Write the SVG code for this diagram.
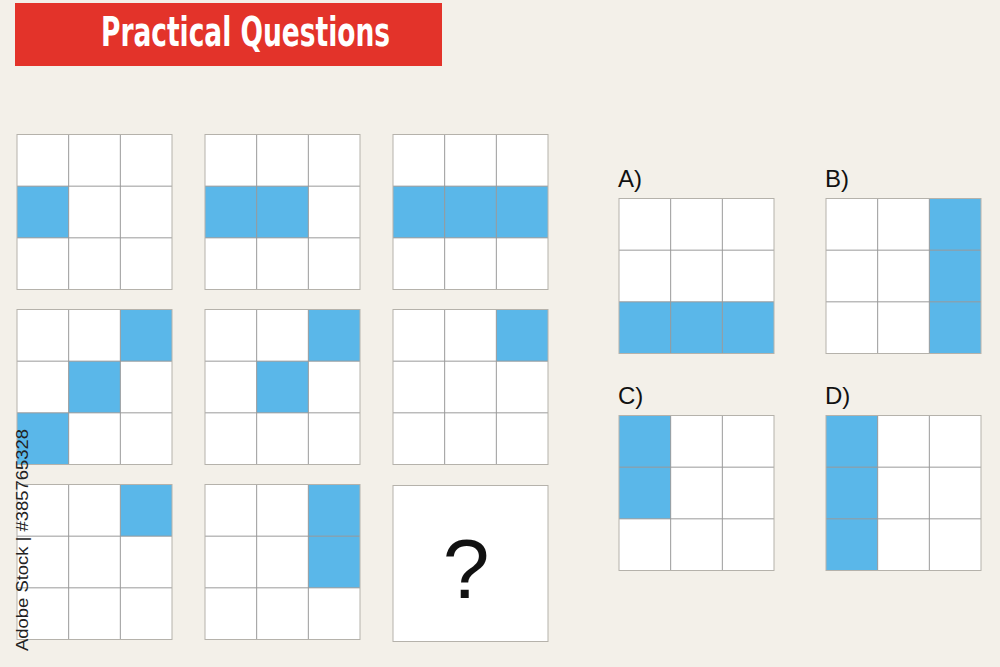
<svg xmlns="http://www.w3.org/2000/svg" xmlns:xlink="http://www.w3.org/1999/xlink" width="1000" height="667" viewBox="0 0 1000 667">
<style>
.bg{fill:#f3f0e9}
.box{fill:#ffffff}
.on{fill:#5ab7e9}
.ln{fill:none;stroke:#9a9a9a;stroke-width:1}
.edge{fill:none;stroke:#b5b2ab;stroke-width:1}
.lbl{font-family:"Liberation Sans",Arial,sans-serif;font-size:24px;fill:#111}
.ttl{font-family:"DejaVu Sans Condensed","DejaVu Sans",sans-serif;font-weight:bold;font-stretch:condensed;font-size:41px;fill:#ffffff}
</style>
<defs>
<g id="lines">
<path class="ln" d="M51.67 0V155M103.33 0V155M0 51.67H155M0 103.33H155"/>
<rect class="edge" x="0" y="0" width="155" height="155"/>
</g>
</defs>
<rect class="bg" x="0" y="0" width="1000" height="667"/>
<g id="title">
<rect x="15" y="3" width="427" height="63" fill="#e3332a"/>
<text class="ttl" x="101" y="46" textLength="289" lengthAdjust="spacingAndGlyphs">Practical Questions</text>
</g>
<g id="q1" transform="translate(17,134.5)">
<rect class="box" width="155" height="155"/>
<rect class="on" x="0" y="51.67" width="51.67" height="51.67"/>
<use href="#lines"/>
</g>
<g id="q2" transform="translate(205,134.5)">
<rect class="box" width="155" height="155"/>
<rect class="on" x="0" y="51.67" width="103.33" height="51.67"/>
<use href="#lines"/>
</g>
<g id="q3" transform="translate(393,134.5)">
<rect class="box" width="155" height="155"/>
<rect class="on" x="0" y="51.67" width="155" height="51.67"/>
<use href="#lines"/>
</g>
<g id="q4" transform="translate(17,309.5)">
<rect class="box" width="155" height="155"/>
<rect class="on" x="103.33" y="0" width="51.67" height="51.67"/>
<rect class="on" x="51.67" y="51.67" width="51.67" height="51.67"/>
<rect class="on" x="0" y="103.33" width="51.67" height="51.67"/>
<use href="#lines"/>
</g>
<g id="q5" transform="translate(205,309.5)">
<rect class="box" width="155" height="155"/>
<rect class="on" x="103.33" y="0" width="51.67" height="51.67"/>
<rect class="on" x="51.67" y="51.67" width="51.67" height="51.67"/>
<use href="#lines"/>
</g>
<g id="q6" transform="translate(393,309.5)">
<rect class="box" width="155" height="155"/>
<rect class="on" x="103.33" y="0" width="51.67" height="51.67"/>
<use href="#lines"/>
</g>
<g id="q7" transform="translate(17,484.5)">
<rect class="box" width="155" height="155"/>
<rect class="on" x="103.33" y="0" width="51.67" height="51.67"/>
<use href="#lines"/>
</g>
<g id="q8" transform="translate(205,484.5)">
<rect class="box" width="155" height="155"/>
<rect class="on" x="103.33" y="0" width="51.67" height="103.33"/>
<use href="#lines"/>
</g>
<g id="q9" transform="translate(393,485.5)">
<rect class="box" width="155" height="156"/>
<rect class="edge" width="155" height="156"/>
<text x="73" y="112" text-anchor="middle" font-family="Liberation Sans,Arial,sans-serif" font-size="84" fill="#111">?</text>
</g>
<g id="optA">
<text class="lbl" x="618" y="187">A)</text>
<g transform="translate(619,198.5)">
<rect class="box" width="155" height="155"/>
<rect class="on" x="0" y="103.33" width="155" height="51.67"/>
<use href="#lines"/>
</g>
</g>
<g id="optB">
<text class="lbl" x="825" y="187">B)</text>
<g transform="translate(826,198.5)">
<rect class="box" width="155" height="155"/>
<rect class="on" x="103.33" y="0" width="51.67" height="155"/>
<use href="#lines"/>
</g>
</g>
<g id="optC">
<text class="lbl" x="618" y="404">C)</text>
<g transform="translate(619,415.5)">
<rect class="box" width="155" height="155"/>
<rect class="on" x="0" y="0" width="51.67" height="103.33"/>
<use href="#lines"/>
</g>
</g>
<g id="optD">
<text class="lbl" x="825" y="404">D)</text>
<g transform="translate(826,415.5)">
<rect class="box" width="155" height="155"/>
<rect class="on" x="0" y="0" width="51.67" height="155"/>
<use href="#lines"/>
</g>
</g>
<text transform="translate(28,651) rotate(-90)" font-family="Liberation Sans,Arial,sans-serif" font-size="17" fill="#222" textLength="222" lengthAdjust="spacingAndGlyphs">Adobe Stock | #385765328</text>
</svg>
